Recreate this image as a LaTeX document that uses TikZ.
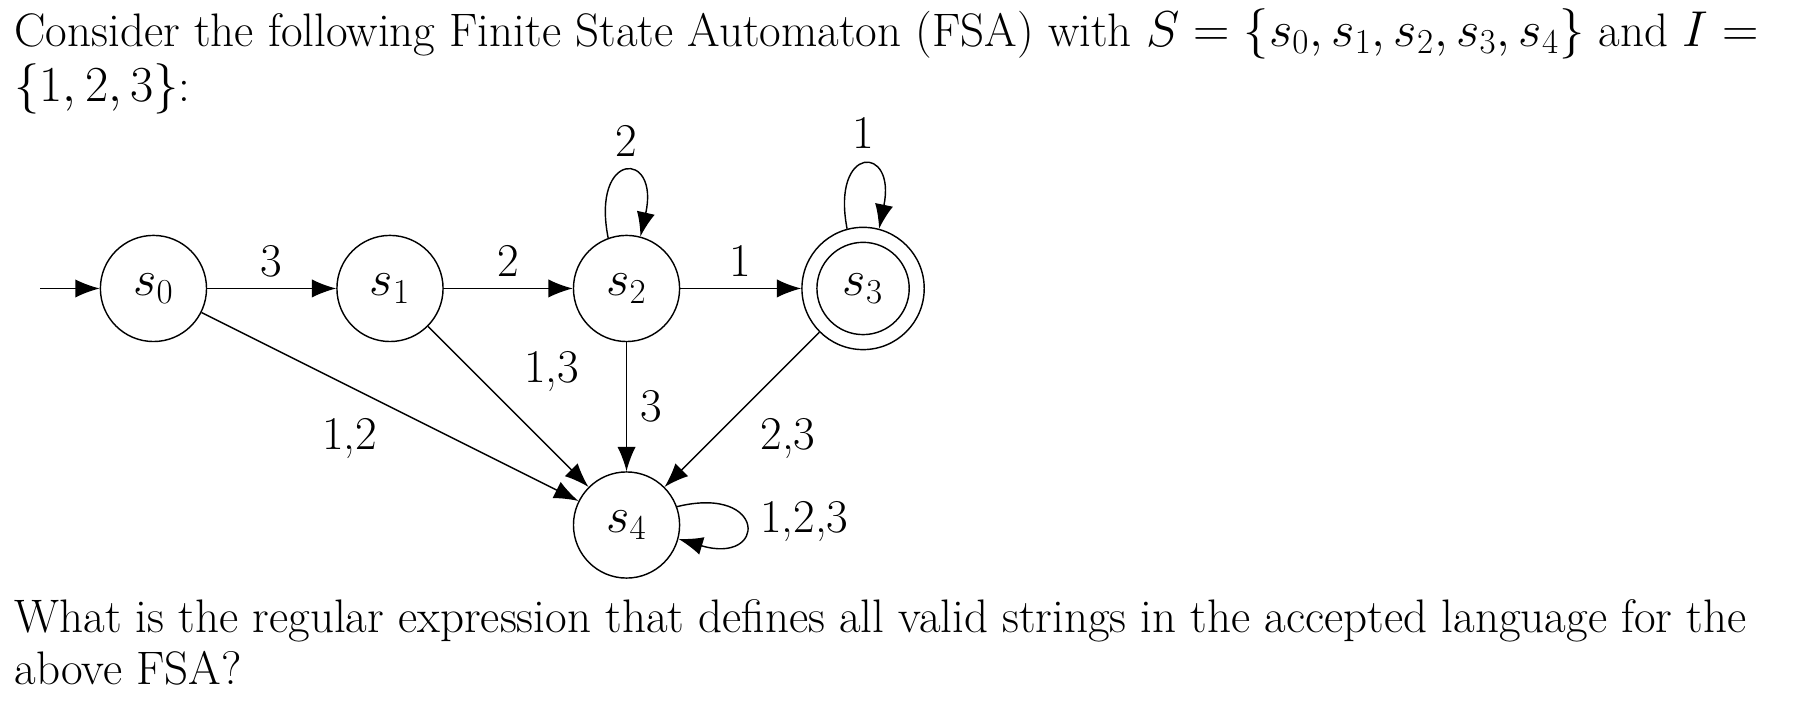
\documentclass[tikz,border=0pt]{standalone}
\usetikzlibrary{arrows.meta,automata}
\begin{document}
\begin{tikzpicture}[x=0.02cm,y=-0.02cm,
  every node/.style={font=\fontsize{23.2}{28}\selectfont},
  st/.style={circle,draw,minimum size=1.84cm,inner sep=0pt},
  >={Latex[length=12pt,width=9pt]}, line width=0.7pt]
\useasboundingbox (0,0) rectangle (1560,609);
\node[anchor=base west,inner sep=0] (t1) at (12,40) {Consider the following Finite State Automaton (FSA) with $S=\{s_0,s_1,s_2,s_3,s_4\}$ and $I=$};
\node[anchor=base west,inner sep=0] (t2) at (12,88) {$\{1,2,3\}$:};
\node[anchor=base west,inner sep=0] (t3) at (12,548) {What is the regular expression that defines all valid strings in the accepted language for the};
\node[anchor=base west,inner sep=0] (t4) at (12,593) {above FSA?};
\node[st] (s0) at (133,250) {$s_0$};
\node[st] (s1) at (338,250) {$s_1$};
\node[st] (s2) at (543,250) {$s_2$};
\node[st,minimum size=2.12cm] (s3) at (748,250) {};
\node[st,minimum size=1.6cm] (s3i) at (748,250) {$s_3$};
\node[st] (s4) at (543,455) {$s_4$};
\coordinate (in) at (35,250);
\draw[->] (in) -- (s0);
\draw[->] (s0) -- node[above=2pt] {3} (s1);
\draw[->] (s1) -- node[above=2pt] {2} (s2);
\draw[->] (s2) -- node[above=2pt] {1} (s3);
\draw[->] (s0) -- (s4);
\node (l12) at (303,380) {1,2};
\draw[->] (s1) -- (s4);
\node (l13) at (478,322) {1,3};
\draw[->] (s2) -- node[right=3pt] {3} (s4);
\draw[->] (s3) -- (s4);
\node (l23) at (683,380) {2,3};
\draw[->] (s2.110) .. controls (512,130) and (572,130) .. (s2.75);
\node (l2) at (543,122) {2};
\draw[->] (s3.105) .. controls (720,125) and (777,125) .. (s3.75);
\node (l1) at (748,115) {1};
\draw[->] (s4.20) .. controls (665,420) and (665,490) .. (s4.-15);
\node (l123) at (697,452) {1,2,3};
\end{tikzpicture}
\end{document}
